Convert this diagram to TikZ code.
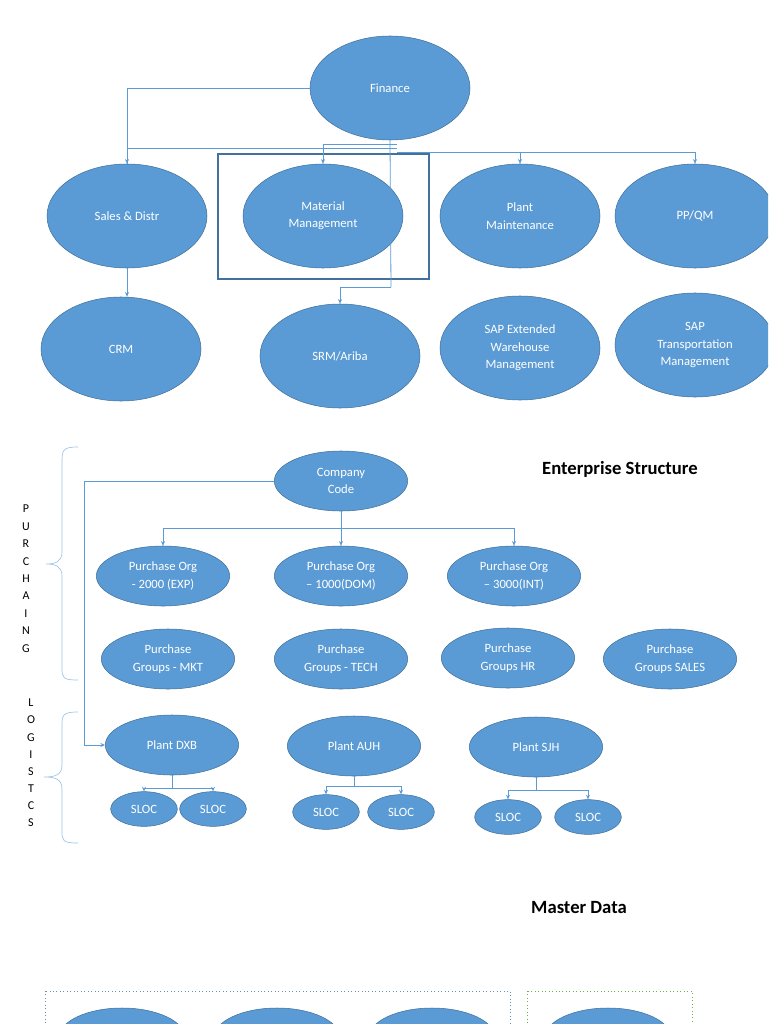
\documentclass[tikz,border=0pt]{standalone}
\usepackage{fontspec}
\setmainfont{Carlito}
\usetikzlibrary{arrows.meta,shapes.geometric}
\definecolor{fillb}{HTML}{5B9BD5}
\definecolor{edgeb}{HTML}{41719C}
\definecolor{lineb}{HTML}{5B9BD5}
\definecolor{brace}{HTML}{9DC3E6}
\definecolor{grn}{HTML}{70AD47}
\tikzset{
  el/.style={ellipse,fill=fillb,draw=edgeb,line width=0.4pt,text=white,align=center,
    inner sep=0pt,font=\fontsize{9.5}{13}\selectfont},
  big/.style={el,minimum width=120pt,minimum height=78pt},
  mid/.style={el,minimum width=100pt,minimum height=45pt},
  sloc/.style={el,minimum width=50pt,minimum height=26pt},
  bot/.style={el,minimum width=95pt,minimum height=45pt},
  con/.style={draw=lineb,line width=0.6pt},
  arr/.style={con,-{Stealth[length=3.5pt,width=3pt]}},
  br/.style={draw=brace,line width=0.5pt},
  lbl/.style={font=\fontsize{9}{10}\selectfont},
  ttl/.style={font=\bfseries\fontsize{14}{16}\selectfont}
}
\begin{document}
\begin{tikzpicture}[x=0.75pt,y=-0.75pt]
\useasboundingbox (0,0) rectangle (768,1024);
\clip (0,0) rectangle (768,1024);
% top
\node[big] (fin) at (390,88) {Finance};
\node[big] (sd) at (127,216) {Sales \& Distr};
\node[big] (mm) at (323,216) {Material\\Management};
\node[big] (pm) at (520,216) {Plant\\Maintenance};
\node[big] (pp) at (695,216) {PP/QM};
\node[big] (crm) at (121,349) {CRM};
\node[big] (srm) at (340,356) {SRM/Ariba};
\node[big] (ewm) at (520,348) {SAP Extended\\Warehouse\\Management};
\node[big] (tm) at (695,345) {SAP\\Transportation\\Management};
\draw[edgeb,line width=2.2pt] (218,154) rectangle (429,279);
\coordinate (j1) at (397,144);
\coordinate (j2) at (397,148);
\coordinate (j3) at (397,152);
\coordinate (j4) at (391,287);
\draw[arr] (fin.west) -| (sd.north);
\draw[con] (fin.south) -- (j4);
\draw[arr] (j4) -| (srm.north);
\draw[arr] (j1) -| (mm.north);
\draw[con] (j2) -| (sd.north);
\draw[arr] (j3) -| (pm.north);
\draw[arr] (j3) -| (pp.north);
\draw[arr] (sd.south) -- (sd.south |- crm.north);
% enterprise structure
\node[ttl] (es) at (620,469) {Enterprise Structure};
\node[mid] (cc) at (341,481) {Company\\Code};
\node[mid] (po1) at (163,576) {Purchase Org\\- 2000 (EXP)};
\node[mid] (po2) at (341,576) {Purchase Org\\– 1000(DOM)};
\node[mid] (po3) at (514,576) {Purchase Org\\– 3000(INT)};
\node[mid] (pg1) at (168,659) {Purchase\\Groups - MKT};
\node[mid] (pg2) at (341,659) {Purchase\\Groups - TECH};
\node[mid] (pg3) at (508,658) {Purchase\\Groups HR};
\node[mid] (pg4) at (670,659) {Purchase\\Groups SALES};
\node[mid] (dxb) at (172,745) {Plant DXB};
\node[mid] (auh) at (354,746) {Plant AUH};
\node[mid] (sjh) at (536,747) {Plant SJH};
\node[sloc] (s1) at (144,809) {SLOC};
\node[sloc] (s2) at (213,809) {SLOC};
\node[sloc] (s3) at (326,812) {SLOC};
\node[sloc] (s4) at (401,812) {SLOC};
\node[sloc] (s5) at (508,817) {SLOC};
\node[sloc] (s6) at (588,817) {SLOC};
\coordinate (cj) at (341,528);
\draw[arr] (cc.south) -- (po2.north);
\draw[arr] (cj) -| (po1.north);
\draw[arr] (cj) -| (po3.north);
\coordinate (cl) at (84,481);
\draw[con] (cc.west) -- (cl);
\draw[arr] (cl) |- (dxb.west);
\coordinate (d1) at (172,788);
\draw[con] (dxb.south) -- (d1);
\draw[arr] (d1) -| (s1.north);
\draw[arr] (d1) -| (s2.north);
\coordinate (d2) at (354,786);
\draw[con] (auh.south) -- (d2);
\draw[arr] (d2) -| (s3.north);
\draw[arr] (d2) -| (s4.north);
\coordinate (d3) at (536,790);
\draw[con] (sjh.south) -- (d3);
\draw[arr] (d3) -| (s5.north);
\draw[arr] (d3) -| (s6.north);
% braces
\draw[br] (78,447) .. controls (63,447) and (62,450) .. (62,462) -- (62,552)
  .. controls (62,562) and (55,564) .. (46,564)
  .. controls (55,564) and (62,566) .. (62,576) -- (62,668)
  .. controls (62,678) and (63,680) .. (78,680);
\draw[br] (78,712) .. controls (63,712) and (62,715) .. (62,725) -- (62,765)
  .. controls (62,775) and (55,777) .. (44,777)
  .. controls (55,777) and (62,779) .. (62,789) -- (62,831)
  .. controls (62,841) and (63,843) .. (78,843);
\foreach \c [count=\i from 0] in {P,U,R,C,H,A,I,N,G}
  \node[lbl] (p\i) at (26,509+17.4*\i) {\c};
\foreach \c [count=\i from 0] in {L,O,G,I,S,T,C,S}
  \node[lbl] (l\i) at (31,703+17.1*\i) {\c};
% master data
\node[ttl] (md) at (579,908) {Master Data};
\draw[edgeb!80,dotted,line width=0.6pt] (45,991) rectangle (510,1040);
\draw[grn,dotted,line width=0.6pt] (527,991) rectangle (692,1040);
\node[bot] (m1) at (122,1038) {};
\node[bot] (m2) at (277,1038) {};
\node[bot] (m3) at (432,1038) {};
\node[bot] (m4) at (608,1038) {};
\end{tikzpicture}
\end{document}
